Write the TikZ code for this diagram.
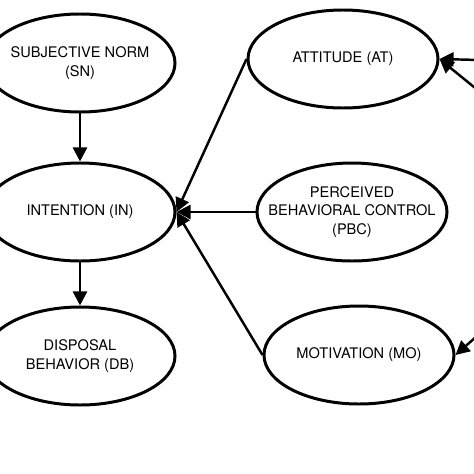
\documentclass[tikz,border=0pt]{standalone}
\usepackage{fontspec}
\setmainfont{TeX Gyre Heros}
\usetikzlibrary{shapes.geometric,arrows.meta}

\begin{document}
\begin{tikzpicture}[scale=0.2]
\tikzstyle{every node}+=[inner sep=0pt]
\tikzstyle{construct}=[draw=black, line width=1.7pt, ellipse, inner sep=-1cm, minimum width=3.8cm, minimum height=1.96cm, align=center, font=\fontsize{8.3}{10.6}\selectfont]
\tikzstyle{link}=[black, line width=1.4pt, -{Triangle[length=8pt,width=8pt]}]
\useasboundingbox (0,0) rectangle (47.4,-47.4);
\node [construct] (SN) at (8,-6.3) {SUBJECTIVE NORM\\(SN)};
\node [construct] (IN) at (8,-21.2) {INTENTION (IN)};
\node [construct] (DB) at (8,-35.6) {DISPOSAL\\BEHAVIOR (DB)};
\node [construct] (AT) at (34.3,-5.9) {ATTITUDE (AT)};
\node [construct] (PBC) at (35.2,-21.2) {PERCEIVED\\BEHAVIORAL CONTROL\\(PBC)};
\node [construct] (MO) at (35.9,-35.5) {MOTIVATION (MO)};
\coordinate (ATin1) at (48,-6);
\coordinate (ATin2) at (48.5,-9.6);
\coordinate (MOin) at (48.5,-32.9);
\draw [link] (SN) -- (IN);
\draw [link] (IN) -- (DB);
\draw [link] (AT.west) -- (IN.east);
\draw [link] (PBC.west) -- (IN.east);
\draw [link] (MO.west) -- (IN.east);
\draw [link] (ATin1) -- (AT.east);
\draw [link] (ATin2) -- (AT.east);
\draw [link] (MOin) -- (MO.east);
\end{tikzpicture}
\end{document}
